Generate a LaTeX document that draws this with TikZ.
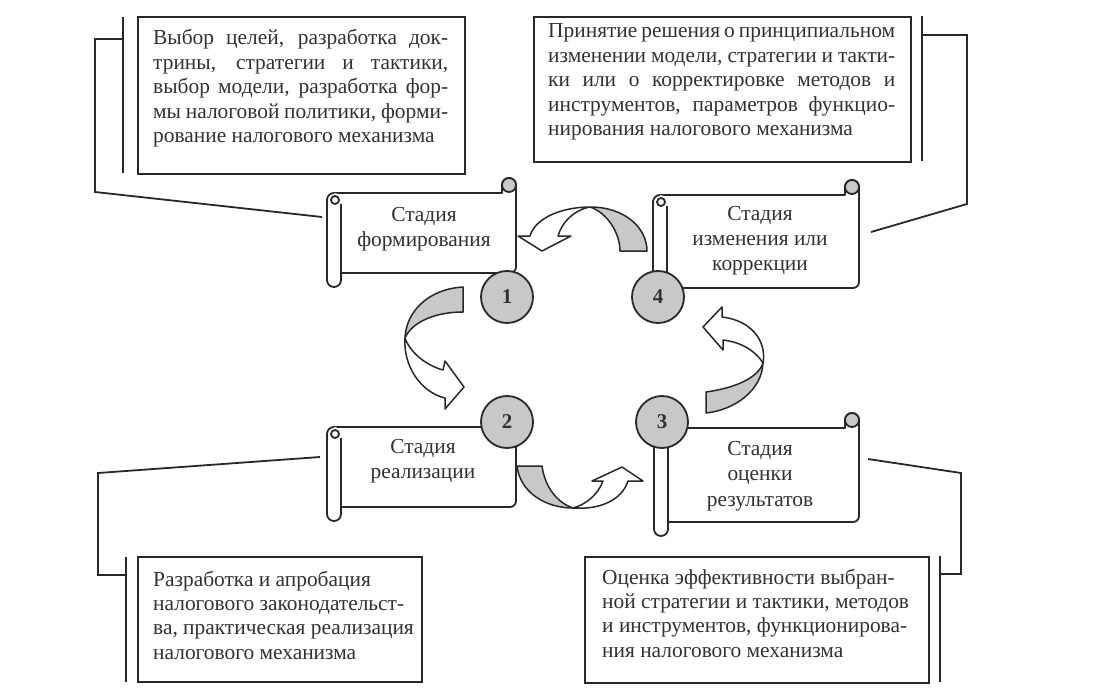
\documentclass[tikz,border=0pt]{standalone}
\usepackage{fontspec}
\setmainfont{Liberation Serif}
\definecolor{ink}{RGB}{40,40,40}
\definecolor{txt}{RGB}{50,50,50}
\definecolor{shade}{RGB}{200,200,200}
\newcommand{\jline}[2]{\makebox[#1][s]{#2}}
\newcommand{\scrollshape}[4]{%
\begin{scope}[shift={(#1,#2)}]
\draw[scrl, fill=white] (7,0) -- ({#3-14},0) -- ({#3-14},-8) arc[start angle=180,end angle=360,radius=7] -- (#3,{#4-6}) arc[start angle=0,end angle=90,radius=6] -- (7,#4) -- cycle;
\filldraw[scrl, fill=shade] ({#3-7},-8) circle[radius=7];
\fill[white] (0,7) -- (0,{#4+7}) arc[start angle=180,end angle=0,radius=7] -- (14,7) arc[start angle=0,end angle=-180,radius=7] -- cycle;
\draw[scrl] (7,0) arc[start angle=270,end angle=180,radius=7] -- (0,{#4+7}) arc[start angle=180,end angle=0,radius=7] -- (14,11);
\draw[scrl] (8,7) circle[radius=4];
\end{scope}}
\begin{document}
\begin{tikzpicture}[x=1pt,y=-1pt,
  box/.style={draw=ink, line width=2pt, fill=white, inner sep=0pt, anchor=north west},
  conn/.style={draw=ink, line width=1.8pt},
  scrl/.style={draw=ink, line width=1.8pt, line join=round},
  arw/.style={draw=ink, line width=1.5pt, line join=round},
  num/.style={circle, draw=ink, line width=1.8pt, fill=shade, minimum size=52pt, inner sep=0pt, text=txt, font=\bfseries\fontsize{21}{21}\selectfont},
  txtn/.style={inner sep=0pt, text=txt, font=\fontsize{21.4}{24.4}\selectfont},
  stxt/.style={inner sep=0pt, text=txt, anchor=base, font=\fontsize{21.4}{25.5}\selectfont}]
\fill[white] (0,0) rectangle (1114,690);
\useasboundingbox (0,0) rectangle (1114,690);

% text boxes
\node[box, minimum width=327pt, minimum height=157pt] (tl) at (137,16) {};
\node[box, minimum width=377pt, minimum height=145pt] (tr) at (533,16) {};
\node[box, minimum width=284pt, minimum height=125pt] (bl) at (137,556) {};
\node[box, minimum width=344pt, minimum height=126pt] (br) at (584,556) {};

\node[txtn, anchor=base west] (tlt) at (153,45) {\parbox[t]{295pt}{%
\jline{295pt}{Выбор целей, разработка док-}\\
\jline{295pt}{трины, стратегии и тактики,}\\
\jline{295pt}{выбор модели, разработка фор-}\\
\jline{295pt}{мы налоговой политики, форми-}\\
рование налогового механизма}};
\node[txtn, anchor=base west] (trt) at (548,38) {\parbox[t]{347pt}{%
\jline{347pt}{Принятие решения о принципиальном}\\
\jline{347pt}{изменении модели, стратегии и такти-}\\
\jline{347pt}{ки или о корректировке методов и}\\
\jline{347pt}{инструментов, параметров функцио-}\\
нирования налогового механизма}};
\node[txtn, anchor=base west] (blt) at (153,586) {\parbox[t]{270pt}{%
Разработка и апробация\\
налогового законодательст-\\
ва, практическая реализация\\
налогового механизма}};
\node[txtn, anchor=base west] (brt) at (602,584) {\parbox[t]{320pt}{%
Оценка эффективности выбран-\\
ной стратегии и тактики, методов\\
и инструментов, функционирова-\\
ния налогового механизма}};

% bars beside boxes
\coordinate (tlb1) at (123,17); \coordinate (tlb2) at (123,173);
\coordinate (trb1) at (922,16); \coordinate (trb2) at (922,161);
\coordinate (blb1) at (126,557); \coordinate (blb2) at (126,682);
\coordinate (brb1) at (940,556); \coordinate (brb2) at (940,682);
\draw[conn] (tlb1) -- (tlb2);
\draw[conn] (trb1) -- (trb2);
\draw[conn] (blb1) -- (blb2);
\draw[conn] (brb1) -- (brb2);

% connectors
\coordinate (c1a) at (123,39); \coordinate (c1b) at (95,39); \coordinate (c1c) at (95,192); \coordinate (c1d) at (322,217);
\coordinate (c4a) at (922,35); \coordinate (c4b) at (967,35); \coordinate (c4c) at (967,204); \coordinate (c4d) at (871,232);
\coordinate (c2a) at (126,575); \coordinate (c2b) at (98,575); \coordinate (c2c) at (98,473); \coordinate (c2d) at (320,457);
\coordinate (c3a) at (940,574); \coordinate (c3b) at (961,574); \coordinate (c3c) at (961,473); \coordinate (c3d) at (868,459);
\draw[conn] (c1a) -- (c1b) -- (c1c) -- (c1d);
\draw[conn] (c4a) -- (c4b) -- (c4c) -- (c4d);
\draw[conn] (c2a) -- (c2b) -- (c2c) -- (c2d);
\draw[conn] (c3a) -- (c3b) -- (c3c) -- (c3d);

% scrolls
\scrollshape{327}{193}{189}{80}
\scrollshape{653}{195}{206}{93}
\scrollshape{327}{427}{189}{80}
\scrollshape{654}{428}{205}{94}

\node[stxt] (s1t) at (424,221) {\parbox[t]{220pt}{\centering Стадия\\формирования}};
\node[stxt] (s4t) at (760,220) {\parbox[t]{220pt}{\centering Стадия\\изменения или\\коррекции}};
\node[stxt] (s2t) at (423,453) {\parbox[t]{220pt}{\centering Стадия\\реализации}};
\node[stxt] (s3t) at (760,455) {\parbox[t]{220pt}{\centering Стадия\\оценки\\результатов}};

% number circles
\node[num] (n1) at (507,297) {1};
\node[num] (n2) at (507,422) {2};
\node[num] (n3) at (662,422) {3};
\node[num] (n4) at (658,297) {4};

% curved arrows
% 4 -> 1 (top)
\draw[arw, fill=shade] (590,207) .. controls (625,207) and (647,228) .. (647,251) -- (620,251) .. controls (620,232) and (606,212) .. (590,207) -- cycle;
\draw[arw, fill=white] (590,207) .. controls (562,207) and (535,218) .. (530,236) -- (518,236) -- (542,251) -- (571,236) -- (558,236) .. controls (562,222) and (574,210) .. (590,207) -- cycle;
% 1 -> 2 (left)
\draw[arw, fill=shade] (463,287) .. controls (428,289) and (406,312) .. (405,338) .. controls (412,322) and (435,312) .. (463,312) -- cycle;
\draw[arw, fill=white] (405,338) .. controls (403,365) and (420,392) .. (445,398) -- (445,409) -- (464,387) -- (445,361) -- (443,370) .. controls (425,365) and (410,352) .. (405,338) -- cycle;
% 2 -> 3 (bottom)
\draw[arw, fill=shade] (517,466) -- (542,466) .. controls (545,488) and (558,503) .. (573,508) .. controls (545,508) and (520,492) .. (517,466) -- cycle;
\draw[arw, fill=white] (573,508) .. controls (600,510) and (622,500) .. (628,481) -- (643,481) -- (622,467) -- (592,481) -- (603,481) .. controls (598,495) and (585,505) .. (573,508) -- cycle;
% 3 -> 4 (right)
\draw[arw, fill=shade] (706,392) .. controls (735,388) and (758,378) .. (763,363) .. controls (762,390) and (735,410) .. (706,413) -- cycle;
\draw[arw, fill=white] (763,363) .. controls (767,340) and (750,320) .. (722,317) -- (722,307) -- (703,327) -- (723,350) -- (723,340) .. controls (740,342) and (755,350) .. (763,363) -- cycle;
\end{tikzpicture}
\end{document}
